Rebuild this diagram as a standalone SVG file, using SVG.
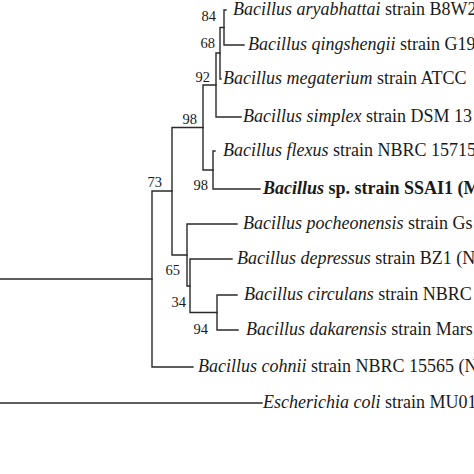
<svg xmlns="http://www.w3.org/2000/svg" width="474" height="474" viewBox="0 0 474 474">
<style>
  .br { fill: none; stroke: #2a2a2a; stroke-width: 1.4; stroke-linecap: square; }
  .tx { font-family: "Liberation Serif", "Times New Roman", serif; font-size: 18px; fill: #1a1a1a; }
  .it { font-style: italic; }
  .bd { font-weight: bold; }
  .bs { font-family: "Liberation Serif", "Times New Roman", serif; font-size: 14.5px; fill: #1a1a1a; text-anchor: end; }
</style>
<rect width="474" height="474" fill="#ffffff"/>
<g id="connectors">
  <path class="br" d="M224,10 V45 M224,10 H226 M224,45 H244"/>
  <path class="br" d="M220,27.5 V79 M220,27.5 H224 M220,79 H221"/>
  <path class="br" d="M216,53 V117 M216,53 H220 M216,117 H241"/>
  <path class="br" d="M213,151 V189 M213,151 H215 M213,189 H260"/>
  <path class="br" d="M203,85 V170 M203,85 H216 M203,170 H213"/>
  <path class="br" d="M217,295 V330 M217,295 H237 M217,330 H238"/>
  <path class="br" d="M190,259 V312.5 M190,259 H232 M190,312.5 H217"/>
  <path class="br" d="M187,224 V286 M187,224 H237 M187,286 H190"/>
  <path class="br" d="M172,127.5 V255 M172,127.5 H203 M172,255 H187"/>
  <path class="br" d="M152,191 V367 M152,191 H172 M152,367 H193"/>
  <path class="br" d="M0,279 H152 M0,403 H262"/>
</g>
<g id="leaf-aryabhattai"><text class="tx" x="233" y="15"><tspan class="it">Bacillus aryabhattai</tspan> strain B8W2</text></g>
<g id="leaf-qingshengii"><text class="tx" x="248" y="50"><tspan class="it">Bacillus qingshengii</tspan> strain G19</text></g>
<g id="leaf-megaterium"><text class="tx" x="223" y="84"><tspan class="it">Bacillus megaterium</tspan> strain ATCC</text></g>
<g id="leaf-simplex"><text class="tx" x="243" y="122"><tspan class="it">Bacillus simplex</tspan> strain DSM 13</text></g>
<g id="leaf-flexus"><text class="tx" x="223" y="156"><tspan class="it">Bacillus flexus</tspan> strain NBRC 15715</text></g>
<g id="leaf-SSAI1"><text class="tx bd" x="263" y="194"><tspan class="it">Bacillus</tspan> sp. strain SSAI1 (M</text></g>
<g id="leaf-pocheonensis"><text class="tx" x="243" y="229"><tspan class="it">Bacillus pocheonensis</tspan> strain Gs</text></g>
<g id="leaf-depressus"><text class="tx" x="237" y="264"><tspan class="it">Bacillus depressus</tspan> strain BZ1 (N</text></g>
<g id="leaf-circulans"><text class="tx" x="244" y="300"><tspan class="it">Bacillus circulans</tspan> strain NBRC</text></g>
<g id="leaf-dakarensis"><text class="tx" x="246" y="335"><tspan class="it">Bacillus dakarensis</tspan> strain Mars</text></g>
<g id="leaf-cohnii"><text class="tx" x="198" y="372"><tspan class="it">Bacillus cohnii</tspan> strain NBRC 15565 (N</text></g>
<g id="leaf-ecoli"><text class="tx" x="263" y="408"><tspan class="it">Escherichia coli</tspan> strain MU01</text></g>
<g id="node-84"><text class="bs" x="216" y="21">84</text></g>
<g id="node-68"><text class="bs" x="215" y="48">68</text></g>
<g id="node-92"><text class="bs" x="210" y="82">92</text></g>
<g id="node-98a"><text class="bs" x="197" y="124">98</text></g>
<g id="node-98b"><text class="bs" x="208" y="190">98</text></g>
<g id="node-73"><text class="bs" x="162" y="187">73</text></g>
<g id="node-65"><text class="bs" x="180" y="275">65</text></g>
<g id="node-34"><text class="bs" x="186" y="307">34</text></g>
<g id="node-94"><text class="bs" x="208" y="334">94</text></g>
</svg>
